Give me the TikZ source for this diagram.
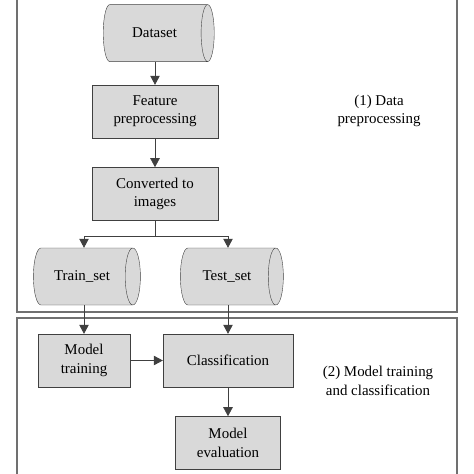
\documentclass[tikz,border=0pt]{standalone}
\usepackage{fontspec}
\setmainfont{Liberation Serif}
\usetikzlibrary{positioning,shapes.geometric,arrows.meta}
\definecolor{boxfill}{HTML}{D9D9D9}
\definecolor{boxline}{HTML}{404040}
\definecolor{frameline}{HTML}{707070}
\begin{document}
\begin{tikzpicture}[x=1bp,y=-1bp,node distance=23bp,
  every node/.style={font=\fontsize{15}{18.5}\selectfont,align=center,text=black},
  stepbox/.style={draw=boxline,fill=boxfill,minimum width=126bp,minimum height=53bp,inner sep=1pt},
  store/.style={cylinder,draw=boxline,fill=boxfill,shape border rotate=0,aspect=1.1,minimum width=57bp,minimum height=107bp,inner sep=1pt},
  arr/.style={-{Triangle[width=9.5pt,length=9pt]},boxline,line width=0.7pt}]
		\useasboundingbox (0,0) rectangle (474,474);
		% frames of the two stages
		\draw[frameline,line width=1.3pt] (17,-3) rectangle (457,312);
		\draw[frameline,line width=1.3pt] (17,318) rectangle (457,478);

		\node[stepbox] (fp) at (155,111.5) {Feature\\preprocessing};
		\node[store,minimum height=111bp] (ds) [above=of fp,xshift=-0.5bp] {Dataset};
		\node[stepbox] (cv) [below=29bp of fp] {Converted to\\images};
		\node[store] (tr) at (82,276.5) {Train\_set};
		\node[store,minimum height=103bp] (te) at (227,276.5) {Test\_set};

		\node[stepbox,minimum width=92bp] (mt) at (84,360.5) {Model\\training};
		\node[stepbox,minimum width=130bp] (cl) at (228,360.5) {Classification};
		\node[stepbox,minimum width=105bp] (me) [below=29bp of cl] {Model\\evaluation};

		\node (lab1) at (379,111) {(1) Data\\preprocessing};
		\node (lab2) at (378,381) {(2) Model training\\and classification};

		\draw[arr] (ds.south -| fp.north) -- (fp.north);
		\draw[arr] (fp) -- (cv);
		\draw[boxline,line width=0.7pt] (cv.south) -- ++(0,16) coordinate (sp);
		\draw[arr] (sp) -| (tr.north -| mt.north);
		\draw[arr] (sp) -| (te.north -| cl.north);
		\draw[arr] (tr.south -| mt.north) -- (mt.north);
		\draw[arr] (te.south -| cl.north) -- (cl.north);
		\draw[arr] (mt) -- (cl);
		\draw[arr] (cl) -- (me);
\end{tikzpicture}
\end{document}
